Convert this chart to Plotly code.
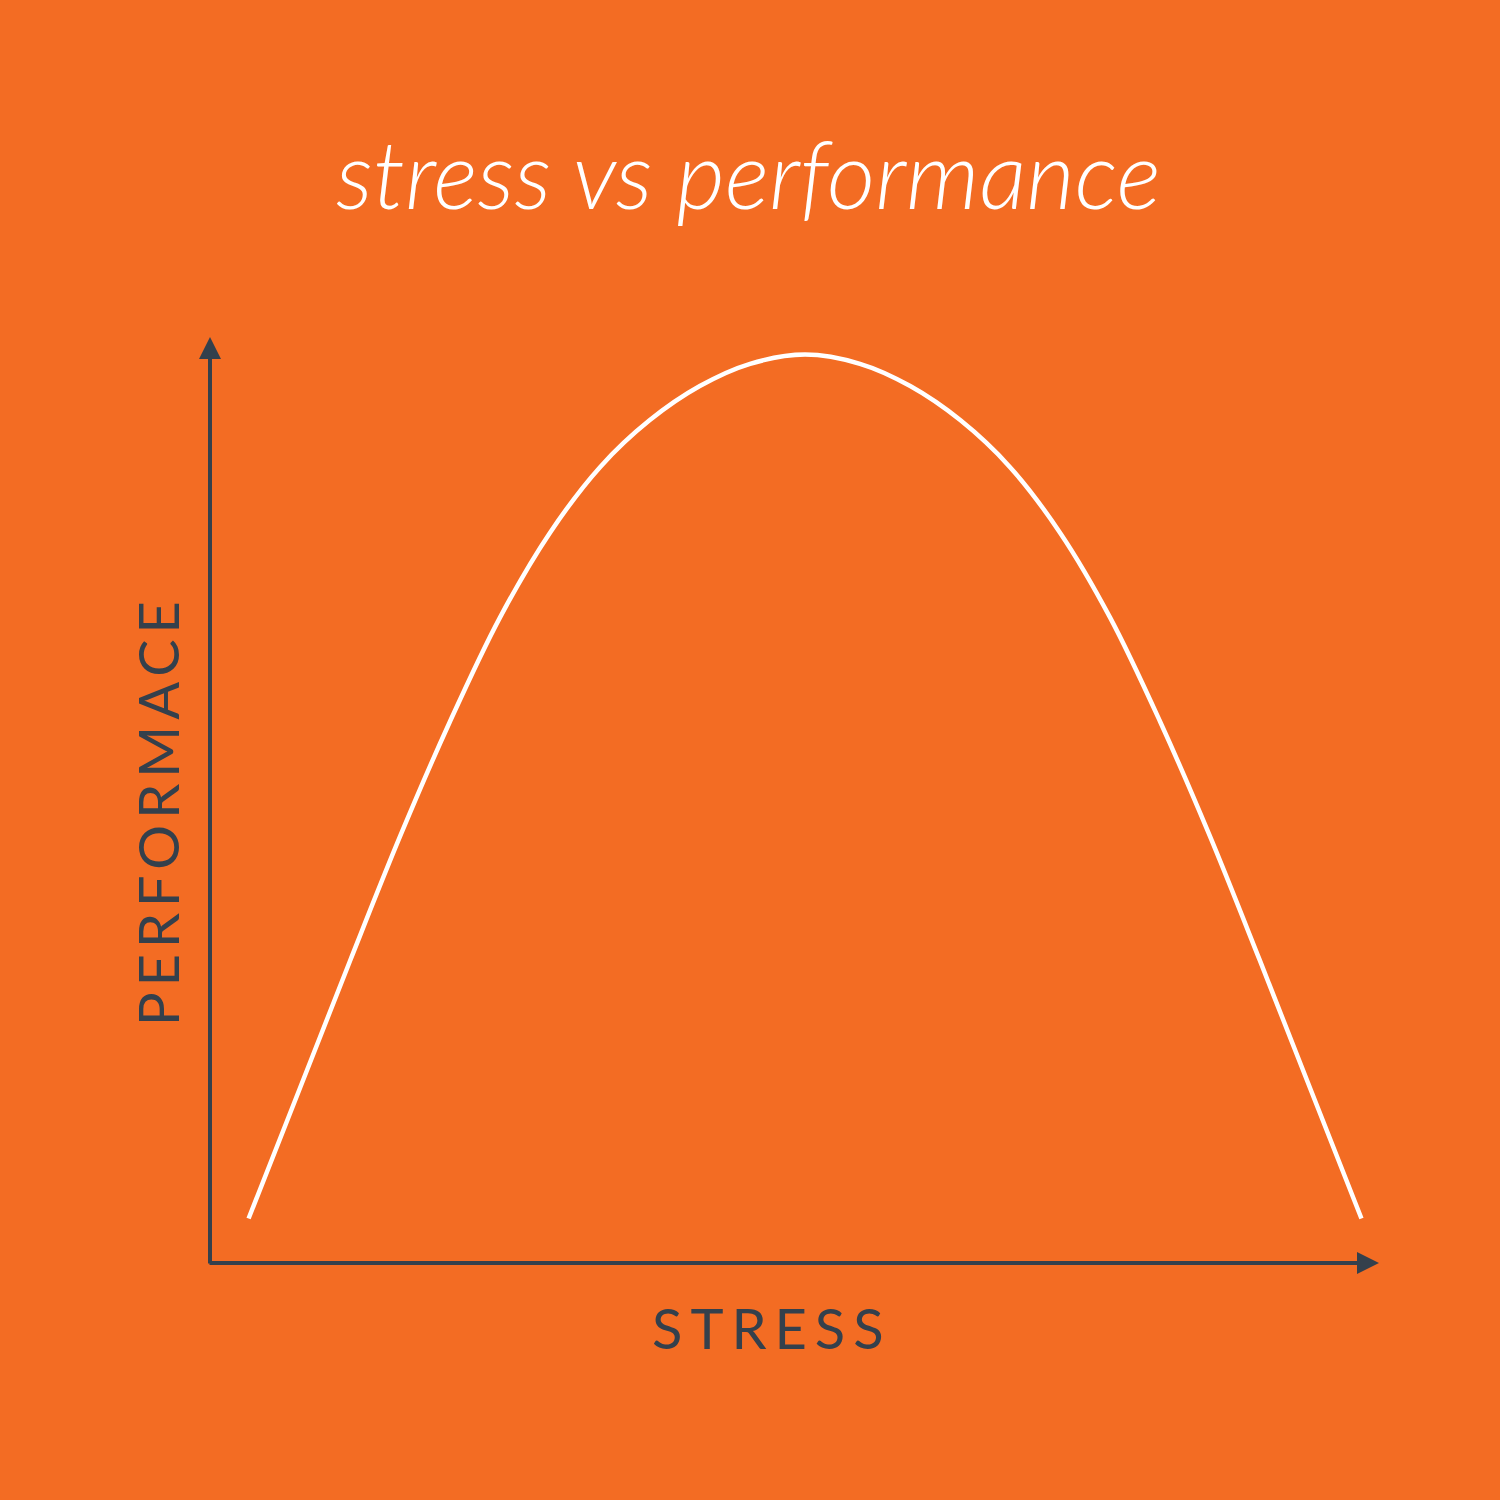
import plotly.graph_objects as go

# dados (escala 0-100 nos dois eixos)
stress = [3.3, 7.7, 12.0, 16.3, 20.5, 24.8, 29.1, 33.4, 37.6, 41.9, 46.2, 50.9,
          55.6, 59.9, 64.2, 68.4, 72.7, 77.0, 81.3, 85.5, 89.8, 94.1, 98.5]
performance = [4.8, 18.9, 32.7, 46.2, 58.4, 69.7, 78.9, 86.0, 91.0, 94.7, 97.1, 98.1,
               97.1, 94.7, 91.0, 86.0, 78.9, 69.7, 58.4, 46.2, 32.7, 18.9, 4.8]

titulo = "stress vs performance"
rotulo_x = "STRESS"
rotulo_y = "PERFORMACE"

laranja = "#F36C23"
cinza = "#34404C"

# área do gráfico em pixels (origem dos eixos e pontas das setas)
ESQ, DIR, TOPO, BASE = 210, 1379, 337, 1263


def px_papel(px, py):
    # posição em pixels -> coordenadas do papel
    return (px - ESQ) / (DIR - ESQ), (BASE - py) / (BASE - TOPO)


fig = go.Figure(go.Scatter(
    x=stress, y=performance, mode="lines", line_shape="spline",
    line=dict(color="white", width=4.5), hoverinfo="skip"
))

# Eixos sem marcações, só as setas
fig.update_xaxes(range=[0, 100], showline=False, showgrid=False, zeroline=False, showticklabels=False, ticks="")
fig.update_yaxes(range=[0, 100], showline=False, showgrid=False, zeroline=False, showticklabels=False, ticks="")

fig.add_annotation(x=0, y=100, ax=0, ay=-0.22, xref="x", yref="y", axref="x", ayref="y",
                   text="", showarrow=True, arrowhead=2, arrowsize=1.1, arrowwidth=4, arrowcolor=cinza)
fig.add_annotation(x=100, y=0, ax=-0.17, ay=0, xref="x", yref="y", axref="x", ayref="y",
                   text="", showarrow=True, arrowhead=2, arrowsize=1.1, arrowwidth=4, arrowcolor=cinza)

# textos
tx, ty = px_papel(748, 172)
fig.add_annotation(x=tx, y=ty, xref="paper", yref="paper", xanchor="center", yanchor="middle",
                   text=titulo, showarrow=False,
                   font=dict(family="Lato", size=94, color="white", style="italic", weight=300))

tx, ty = px_papel(772, 1327)
fig.add_annotation(x=tx, y=ty, xref="paper", yref="paper", xanchor="center", yanchor="middle",
                   text='<span style="letter-spacing:8px">' + rotulo_x + '</span>', showarrow=False,
                   font=dict(family="Lato", size=56, color=cinza, weight=400))

tx, ty = px_papel(157, 811)
fig.add_annotation(x=tx, y=ty, xref="paper", yref="paper", xanchor="center", yanchor="middle",
                   text='<span style="letter-spacing:6px">' + rotulo_y + '</span>', showarrow=False,
                   textangle=-90, font=dict(family="Lato", size=56, color=cinza, weight=400))

fig.update_layout(
    width=1500, height=1500,
    margin=dict(l=ESQ, r=1500 - DIR, t=TOPO, b=1500 - BASE),
    paper_bgcolor=laranja, plot_bgcolor=laranja,
    showlegend=False
)

fig.write_html("out.html", config={"displayModeBar": False},
               post_script="document.body.style.margin='0';document.body.style.background='%s';" % laranja)
